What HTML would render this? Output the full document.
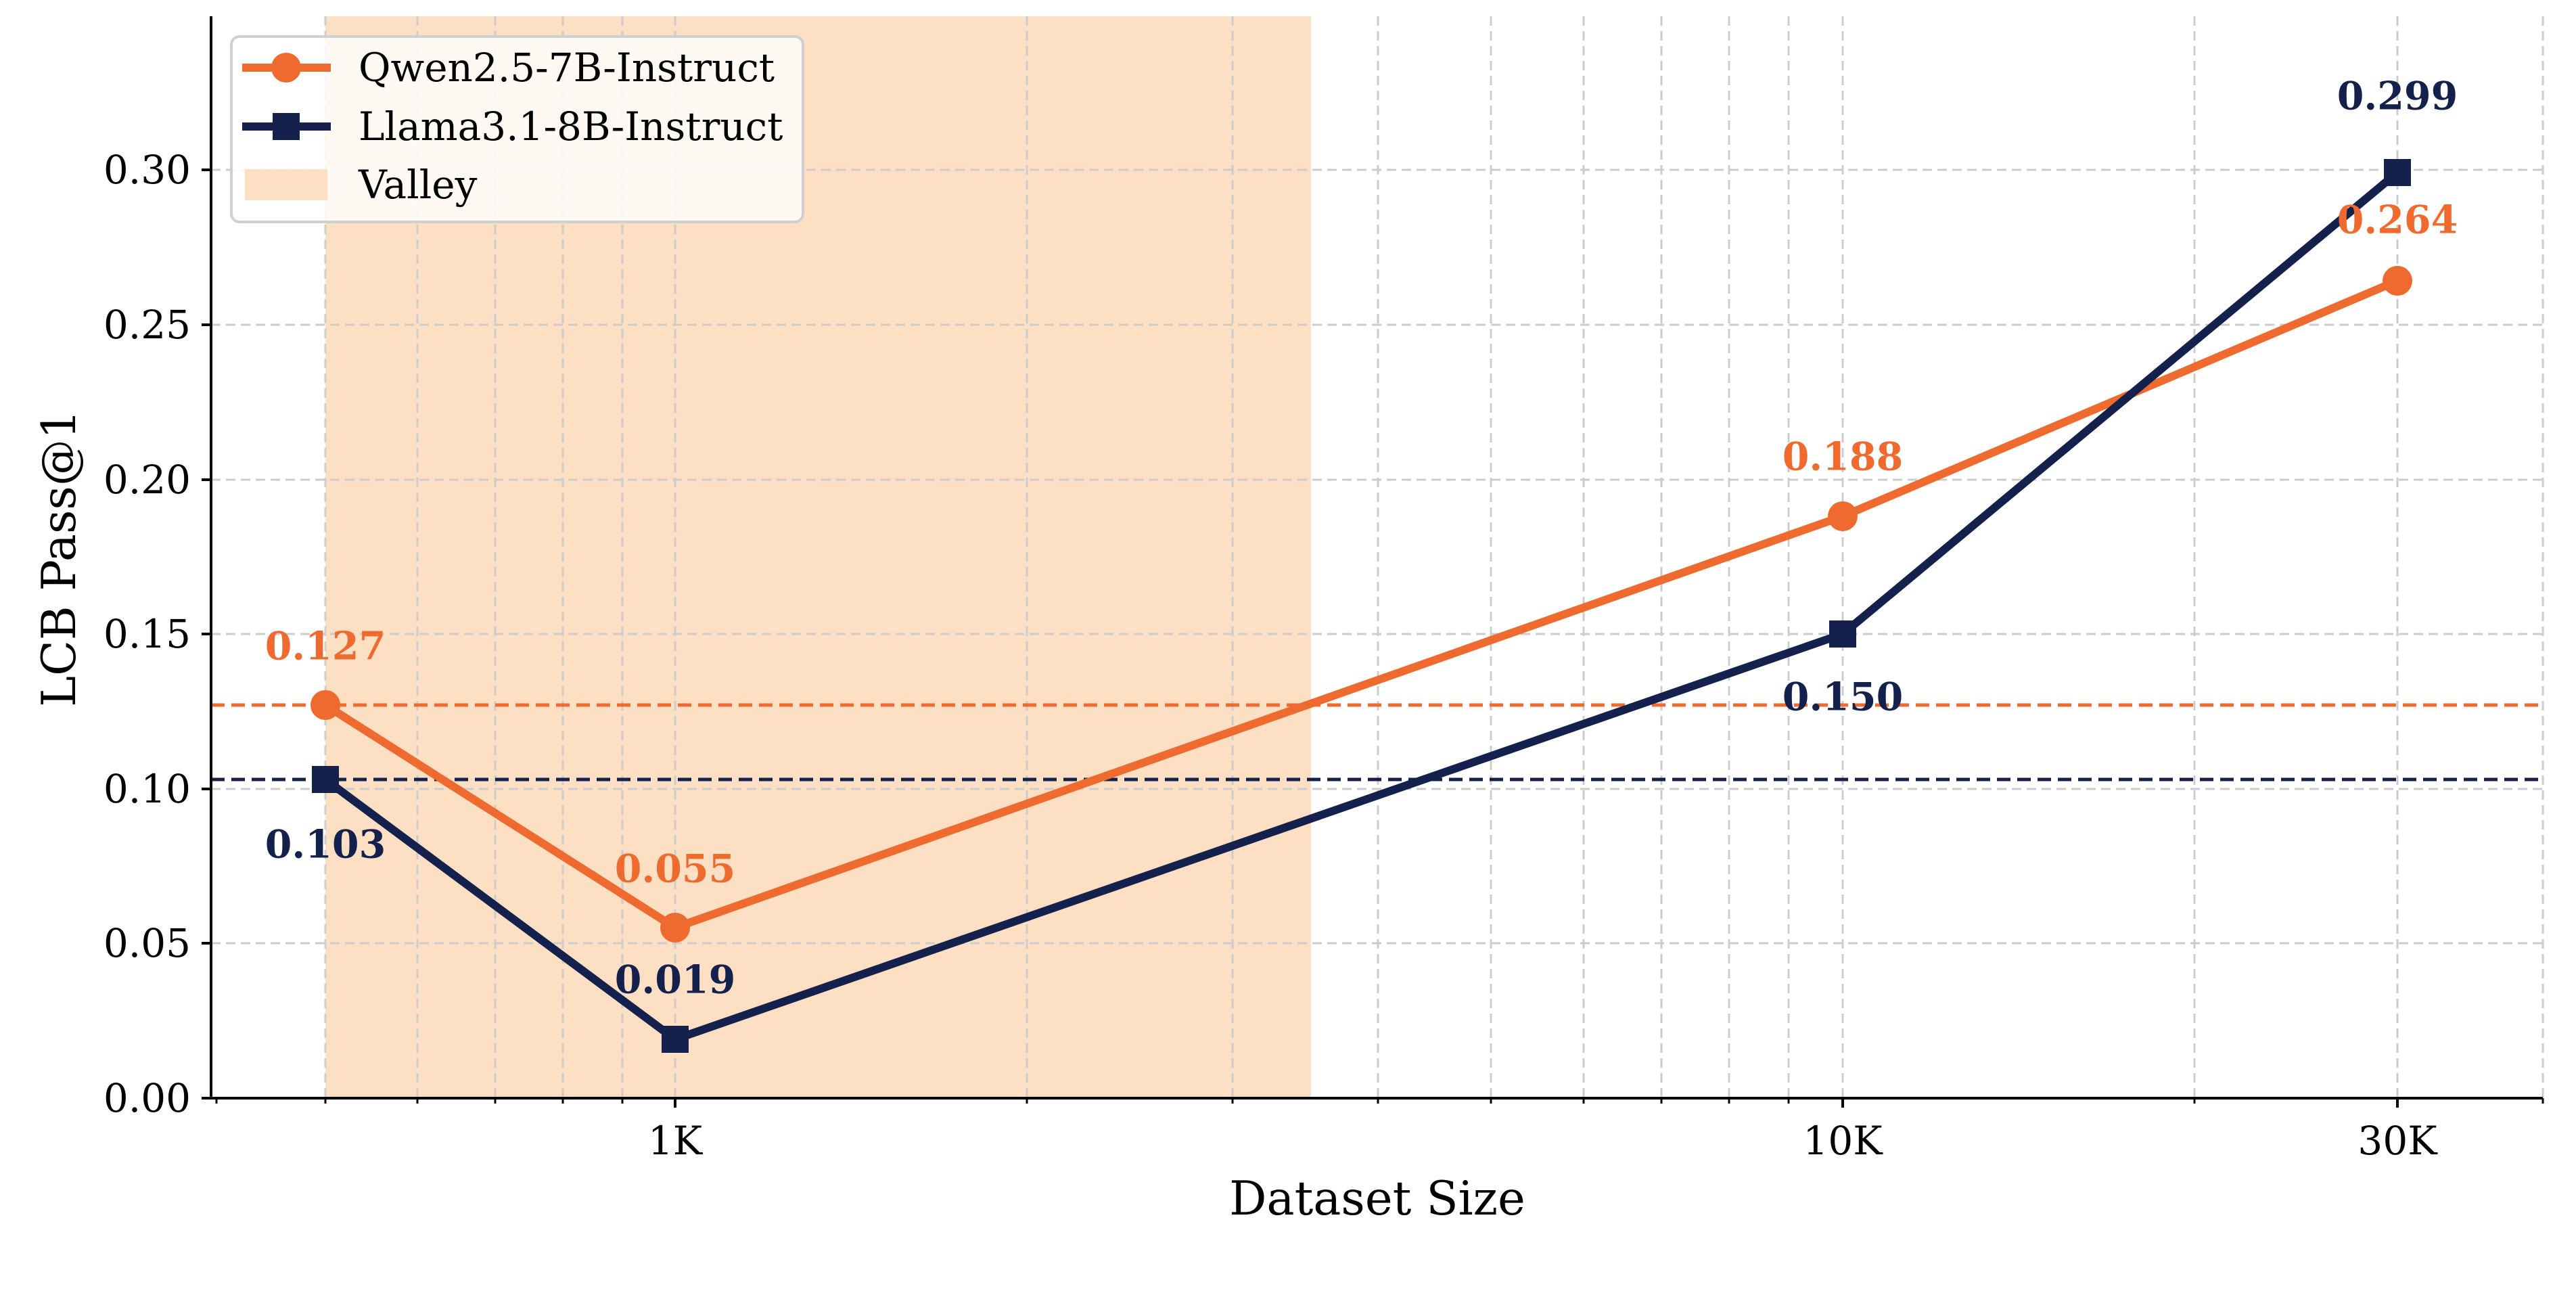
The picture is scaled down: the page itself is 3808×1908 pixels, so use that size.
<!DOCTYPE html>
<html><head><meta charset="utf-8"><style>
html,body{margin:0;padding:0;background:#fff;}
svg{display:block;}
text{font-family:"DejaVu Serif","Liberation Serif",serif;}
</style></head><body>
<svg width="3808" height="1908" viewBox="0 0 3808 1908" xmlns="http://www.w3.org/2000/svg">
<rect x="481" y="24" width="1457" height="1599" fill="#FDDFC4"/>
<g stroke="#cccccc" stroke-width="3" stroke-dasharray="14,8" fill="none">
<line x1="481" y1="24" x2="481" y2="1623"/>
<line x1="617" y1="24" x2="617" y2="1623"/>
<line x1="732" y1="24" x2="732" y2="1623"/>
<line x1="832" y1="24" x2="832" y2="1623"/>
<line x1="920" y1="24" x2="920" y2="1623"/>
<line x1="998" y1="24" x2="998" y2="1623"/>
<line x1="1518" y1="24" x2="1518" y2="1623"/>
<line x1="1822" y1="24" x2="1822" y2="1623"/>
<line x1="2037" y1="24" x2="2037" y2="1623"/>
<line x1="2204" y1="24" x2="2204" y2="1623"/>
<line x1="2341" y1="24" x2="2341" y2="1623"/>
<line x1="2456" y1="24" x2="2456" y2="1623"/>
<line x1="2556" y1="24" x2="2556" y2="1623"/>
<line x1="2644" y1="24" x2="2644" y2="1623"/>
<line x1="2724" y1="24" x2="2724" y2="1623"/>
<line x1="3244" y1="24" x2="3244" y2="1623"/>
<line x1="3544" y1="24" x2="3544" y2="1623"/>
<line x1="3759" y1="24" x2="3759" y2="1623"/>
<line x1="312" y1="1394" x2="3759" y2="1394"/>
<line x1="312" y1="1166" x2="3759" y2="1166"/>
<line x1="312" y1="937" x2="3759" y2="937"/>
<line x1="312" y1="709" x2="3759" y2="709"/>
<line x1="312" y1="480" x2="3759" y2="480"/>
<line x1="312" y1="251" x2="3759" y2="251"/>
</g>
<line x1="312" y1="1042" x2="3759" y2="1042" stroke="#EE6A2E" stroke-width="5" stroke-dasharray="20,10"/>
<line x1="312" y1="1152" x2="3759" y2="1152" stroke="#15214D" stroke-width="5" stroke-dasharray="20,10"/>
<polyline points="481,1042 998,1371 2724,763 3544,415" fill="none" stroke="#EE6A2E" stroke-width="12" stroke-linejoin="round"/>
<polyline points="481,1152 998,1536 2724,937 3544,255" fill="none" stroke="#15214D" stroke-width="12" stroke-linejoin="round"/>
<g fill="#EE6A2E">
<circle cx="481" cy="1042" r="22"/><circle cx="998" cy="1371" r="22"/><circle cx="2724" cy="763" r="22"/><circle cx="3544" cy="415" r="22"/>
</g>
<g fill="#15214D">
<rect x="461" y="1132" width="40" height="40"/><rect x="978" y="1516" width="40" height="40"/><rect x="2704" y="917" width="40" height="40"/><rect x="3524" y="235" width="40" height="40"/>
</g>
<g font-size="57" font-weight="bold" text-anchor="middle" dominant-baseline="central">
<text x="481" y="955" fill="#EE6A2E">0.127</text>
<text x="998" y="1284" fill="#EE6A2E">0.055</text>
<text x="2724" y="675" fill="#EE6A2E">0.188</text>
<text x="3544" y="325" fill="#EE6A2E">0.264</text>
<text x="481" y="1248" fill="#15214D">0.103</text>
<text x="998" y="1448" fill="#15214D">0.019</text>
<text x="2724" y="1030" fill="#15214D">0.150</text>
<text x="3544" y="142" fill="#15214D">0.299</text>
</g>
<line x1="312" y1="24" x2="312" y2="1625" stroke="#000" stroke-width="4"/>
<line x1="310" y1="1623" x2="3759" y2="1623" stroke="#000" stroke-width="4"/>
<g stroke="#000" stroke-width="4">
<line x1="298" y1="1623" x2="312" y2="1623"/><line x1="298" y1="1394" x2="312" y2="1394"/><line x1="298" y1="1166" x2="312" y2="1166"/><line x1="298" y1="937" x2="312" y2="937"/><line x1="298" y1="709" x2="312" y2="709"/><line x1="298" y1="480" x2="312" y2="480"/><line x1="298" y1="251" x2="312" y2="251"/>
<line x1="998" y1="1623" x2="998" y2="1637"/><line x1="2724" y1="1623" x2="2724" y2="1637"/><line x1="3544" y1="1623" x2="3544" y2="1637"/>
</g>
<g stroke="#000" stroke-width="3">
<line x1="481" y1="1623" x2="481" y2="1631"/><line x1="617" y1="1623" x2="617" y2="1631"/><line x1="732" y1="1623" x2="732" y2="1631"/><line x1="832" y1="1623" x2="832" y2="1631"/><line x1="920" y1="1623" x2="920" y2="1631"/><line x1="1518" y1="1623" x2="1518" y2="1631"/><line x1="1822" y1="1623" x2="1822" y2="1631"/><line x1="2037" y1="1623" x2="2037" y2="1631"/><line x1="2204" y1="1623" x2="2204" y2="1631"/><line x1="2341" y1="1623" x2="2341" y2="1631"/><line x1="2456" y1="1623" x2="2456" y2="1631"/><line x1="2556" y1="1623" x2="2556" y2="1631"/><line x1="2644" y1="1623" x2="2644" y2="1631"/><line x1="3244" y1="1623" x2="3244" y2="1631"/><line x1="3759" y1="1623" x2="3759" y2="1631"/><line x1="320" y1="1623" x2="320" y2="1631"/>
</g>
<g font-size="58" text-anchor="end" dominant-baseline="central" fill="#000">
<text x="282" y="1623">0.00</text><text x="282" y="1394">0.05</text><text x="282" y="1166">0.10</text><text x="282" y="937">0.15</text><text x="282" y="709">0.20</text><text x="282" y="480">0.25</text><text x="282" y="251">0.30</text>
</g>
<g font-size="58" text-anchor="middle" dominant-baseline="central" fill="#000">
<text x="998" y="1686">1K</text><text x="2724" y="1686">10K</text><text x="3544" y="1686">30K</text>
</g>
<text x="2036" y="1772" font-size="69" text-anchor="middle" dominant-baseline="central">Dataset Size</text>
<text transform="translate(88,825) rotate(-90)" font-size="69" text-anchor="middle" dominant-baseline="central">LCB Pass@1</text>
<rect x="342" y="54" width="845" height="274" rx="12" fill="#ffffff" fill-opacity="0.82" stroke="#d0d0d0" stroke-width="4"/>
<line x1="358" y1="100" x2="489" y2="100" stroke="#EE6A2E" stroke-width="12"/>
<circle cx="423" cy="100" r="22" fill="#EE6A2E"/>
<line x1="358" y1="187" x2="489" y2="187" stroke="#15214D" stroke-width="12"/>
<rect x="403" y="167" width="40" height="40" fill="#15214D"/>
<rect x="362" y="250" width="122" height="46" fill="#FDDFC4"/>
<g font-size="58" dominant-baseline="central" fill="#000">
<text x="530" y="100">Qwen2.5-7B-Instruct</text>
<text x="530" y="187">Llama3.1-8B-Instruct</text>
<text x="530" y="273">Valley</text>
</g>
</svg>
</body></html>
